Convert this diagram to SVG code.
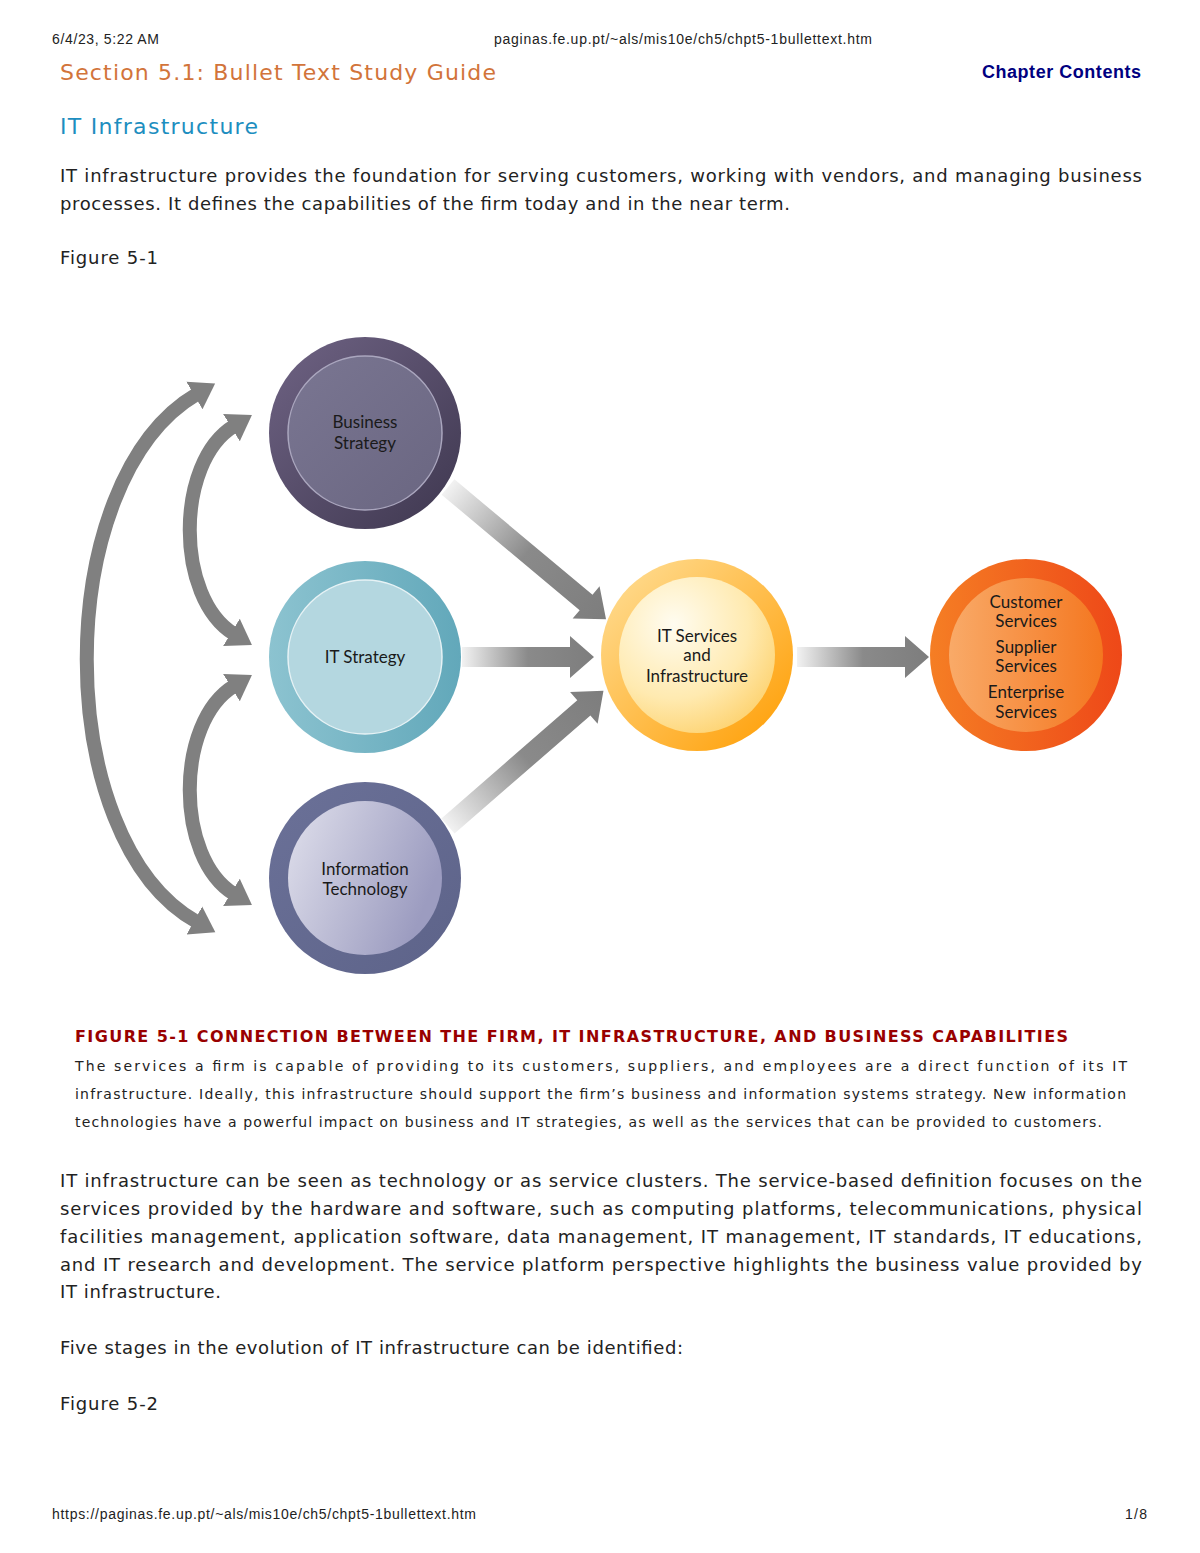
<svg xmlns="http://www.w3.org/2000/svg" width="1200" height="1553" viewBox="0 0 1200 1553">
<style>
.hdr{font-family:"Liberation Sans",Arial,sans-serif;font-size:14px;fill:#222}
.body{font-family:"DejaVu Sans",Verdana,sans-serif;font-size:18px;fill:#222}
.cap{font-family:"DejaVu Sans",Verdana,sans-serif;font-size:14px;fill:#222}
.lbl{font-family:Lato,"Open Sans",sans-serif;font-size:17px;fill:#1a1a1a;text-anchor:middle}
.curve{fill:none;stroke:#808080;stroke-width:14;marker-start:url(#head);marker-end:url(#head)}
</style>
<defs>
<marker id="head" markerUnits="userSpaceOnUse" markerWidth="30" markerHeight="34" refX="3" refY="0" viewBox="0 -17 30 34" orient="auto-start-reverse">
<path d="M0,-16 L24,0 L0,16 z" fill="#808080"/>
</marker>
<linearGradient id="ag" x1="0" y1="0" x2="1" y2="0">
<stop offset="0" stop-color="#f2f2f2"/>
<stop offset="0.5" stop-color="#8a8a8a"/>
<stop offset="1" stop-color="#7d7d7d"/>
</linearGradient>
<linearGradient id="bsO" x1="0" y1="0" x2="1" y2="1">
<stop offset="0" stop-color="#6f6384"/><stop offset="1" stop-color="#3e374f"/>
</linearGradient>
<linearGradient id="bsI" x1="0" y1="0" x2="1" y2="1">
<stop offset="0" stop-color="#7a7692"/><stop offset="1" stop-color="#6a6681"/>
</linearGradient>
<linearGradient id="itsO" x1="0" y1="0" x2="1" y2="0">
<stop offset="0" stop-color="#8cc3d0"/><stop offset="1" stop-color="#62a8ba"/>
</linearGradient>
<linearGradient id="itO" x1="0" y1="0" x2="1" y2="1">
<stop offset="0" stop-color="#6b7198"/><stop offset="1" stop-color="#5d6389"/>
</linearGradient>
<linearGradient id="itI" x1="0" y1="0" x2="1" y2="0.4">
<stop offset="0" stop-color="#e0e0ec"/><stop offset="1" stop-color="#9c9cc0"/>
</linearGradient>
<linearGradient id="svO" x1="0" y1="0" x2="1" y2="1">
<stop offset="0" stop-color="#ffe09a"/><stop offset="1" stop-color="#ff9c00"/>
</linearGradient>
<radialGradient id="svI" cx="0.35" cy="0.3" r="0.8">
<stop offset="0" stop-color="#fffcf0"/><stop offset="0.6" stop-color="#ffeab0"/><stop offset="1" stop-color="#fdd06a"/>
</radialGradient>
<linearGradient id="cuO" x1="0" y1="0" x2="1" y2="0">
<stop offset="0" stop-color="#f57e24"/><stop offset="1" stop-color="#ee4818"/>
</linearGradient>
<linearGradient id="cuI" x1="0" y1="0" x2="1" y2="0">
<stop offset="0" stop-color="#f9aa68"/><stop offset="1" stop-color="#f47720"/>
</linearGradient>
</defs>
<rect width="1200" height="1553" fill="#fff"/>

<g id="page-text">
<text class="hdr" x="52" y="44" textLength="107">6/4/23, 5:22 AM</text>
<text class="hdr" x="494" y="44" textLength="378">paginas.fe.up.pt/~als/mis10e/ch5/chpt5-1bullettext.htm</text>
<text x="60" y="80" textLength="436" style="font-family:'DejaVu Sans',Verdana,sans-serif;font-size:22px;fill:#d2743a">Section 5.1: Bullet Text Study Guide</text>
<text x="982" y="78" textLength="159" style="font-family:'Liberation Sans',Arial,sans-serif;font-size:18px;font-weight:bold;fill:#000080">Chapter Contents</text>
<text x="60" y="134" textLength="198" style="font-family:'DejaVu Sans',Verdana,sans-serif;font-size:22px;fill:#1d8ec0">IT Infrastructure</text>
<text class="body" x="60" y="182" textLength="1082">IT infrastructure provides the foundation for serving customers, working with vendors, and managing business</text>
<text class="body" x="60" y="210" textLength="730">processes. It defines the capabilities of the firm today and in the near term.</text>
<text class="body" x="60" y="264" textLength="98">Figure 5-1</text>

<text x="75" y="1042" textLength="993" style="font-family:'DejaVu Sans',Verdana,sans-serif;font-size:16px;font-weight:bold;fill:#990000">FIGURE 5-1 CONNECTION BETWEEN THE FIRM, IT INFRASTRUCTURE, AND BUSINESS CAPABILITIES</text>
<text class="cap" x="75" y="1071" textLength="1052">The services a firm is capable of providing to its customers, suppliers, and employees are a direct function of its IT</text>
<text class="cap" x="75" y="1099" textLength="1051">infrastructure. Ideally, this infrastructure should support the firm’s business and information systems strategy. New information</text>
<text class="cap" x="75" y="1127" textLength="1027">technologies have a powerful impact on business and IT strategies, as well as the services that can be provided to customers.</text>

<text class="body" x="60" y="1187" textLength="1082">IT infrastructure can be seen as technology or as service clusters. The service-based definition focuses on the</text>
<text class="body" x="60" y="1215" textLength="1082">services provided by the hardware and software, such as computing platforms, telecommunications, physical</text>
<text class="body" x="60" y="1243" textLength="1082">facilities management, application software, data management, IT management, IT standards, IT educations,</text>
<text class="body" x="60" y="1271" textLength="1082">and IT research and development. The service platform perspective highlights the business value provided by</text>
<text class="body" x="60" y="1298" textLength="161">IT infrastructure.</text>
<text class="body" x="60" y="1354" textLength="623">Five stages in the evolution of IT infrastructure can be identified:</text>
<text class="body" x="60" y="1410" textLength="98">Figure 5-2</text>

<text class="hdr" x="52" y="1519" textLength="424">https://paginas.fe.up.pt/~als/mis10e/ch5/chpt5-1bullettext.htm</text>
<text class="hdr" x="1125" y="1519" textLength="22">1/8</text>
</g>

<g id="connectors">
<path class="curve" d="M197,394 C50,480 50,840 197,922"/>
<path class="curve" d="M234,426 C175,462 175,598 234,634"/>
<path class="curve" d="M234,686 C175,722 175,858 234,894"/>
<g transform="translate(448,487) rotate(39.9)">
<polygon points="0,-10 180,-10 180,-21 206,0 180,21 180,10 0,10" fill="url(#ag)"/>
</g>
<polygon points="462,647 570,647 570,636 594,657 570,678 570,667 462,667" fill="url(#ag)"/>
<g transform="translate(448,826) rotate(-41)">
<polygon points="0,-10 180,-10 180,-21 206,0 180,21 180,10 0,10" fill="url(#ag)"/>
</g>
<polygon points="797,647 905,647 905,636 929,657 905,678 905,667 797,667" fill="url(#ag)"/>
</g>

<g id="business-strategy">
<circle cx="365" cy="433" r="96" fill="url(#bsO)"/>
<circle cx="365" cy="433" r="77" fill="url(#bsI)" stroke="#aaa6be" stroke-width="1.5"/>
<text class="lbl" x="365" y="428">Business</text>
<text class="lbl" x="365" y="449">Strategy</text>
</g>

<g id="it-strategy">
<circle cx="365" cy="657" r="96" fill="url(#itsO)"/>
<circle cx="365" cy="657" r="77" fill="#b4d7e0" stroke="#e6f2f5" stroke-width="1.5"/>
<text class="lbl" x="365" y="663">IT Strategy</text>
</g>

<g id="information-technology">
<circle cx="365" cy="878" r="96" fill="url(#itO)"/>
<circle cx="365" cy="878" r="77" fill="url(#itI)"/>
<text class="lbl" x="365" y="875">Information</text>
<text class="lbl" x="365" y="895">Technology</text>
</g>

<g id="it-services">
<circle cx="697" cy="655" r="96" fill="url(#svO)"/>
<circle cx="697" cy="655" r="78" fill="url(#svI)"/>
<text class="lbl" x="697" y="642">IT Services</text>
<text class="lbl" x="697" y="661">and</text>
<text class="lbl" x="697" y="682">Infrastructure</text>
</g>

<g id="services">
<circle cx="1026" cy="655" r="96" fill="url(#cuO)"/>
<circle cx="1026" cy="655" r="77" fill="url(#cuI)"/>
<text class="lbl" x="1026" y="608">Customer</text>
<text class="lbl" x="1026" y="627">Services</text>
<text class="lbl" x="1026" y="653">Supplier</text>
<text class="lbl" x="1026" y="672">Services</text>
<text class="lbl" x="1026" y="698">Enterprise</text>
<text class="lbl" x="1026" y="718">Services</text>
</g>
</svg>
